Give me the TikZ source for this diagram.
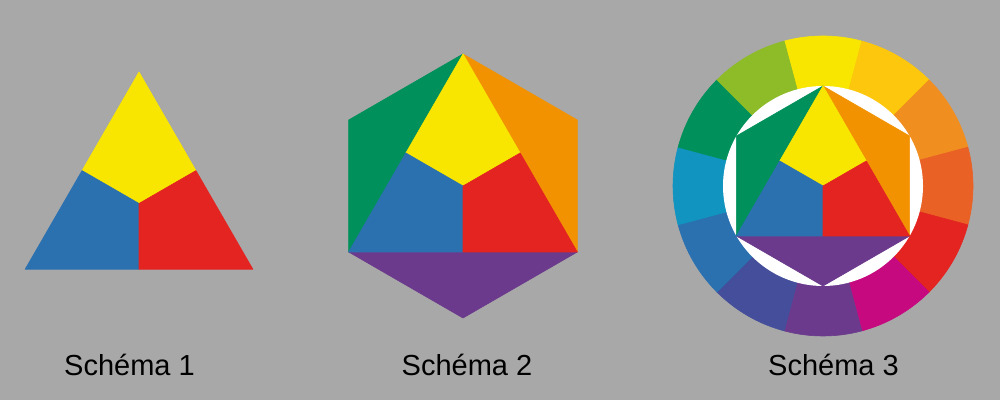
\documentclass[tikz,border=0pt]{standalone}
\usepackage{fontspec}
\setmainfont{Liberation Sans}
\usetikzlibrary{calc}
\definecolor{bggray}{HTML}{A8A8A8}
\definecolor{iYellow}{HTML}{F8E600}
\definecolor{iYellowOrange}{HTML}{FDC70D}
\definecolor{iOrange}{HTML}{F39200}
\definecolor{iOrangeRing}{HTML}{F18E20}
\definecolor{iRedOrange}{HTML}{E96125}
\definecolor{iRed}{HTML}{E42421}
\definecolor{iMagenta}{HTML}{C6097F}
\definecolor{iViolet}{HTML}{6C3A8D}
\definecolor{iBlueViolet}{HTML}{444E9B}
\definecolor{iBlue}{HTML}{2B71B0}
\definecolor{iCyan}{HTML}{1194BF}
\definecolor{iGreen}{HTML}{00905B}
\definecolor{iYellowGreen}{HTML}{8DBC28}
\begin{document}
\begin{tikzpicture}[x=0.5pt,y=0.5pt,line join=round,
	piece/.style={fill=#1,draw=#1,line width=0.3pt},
	titre/.style={anchor=base,font=\fontsize{14.5}{17}\selectfont}]
	\fill [bggray] (0,0) rectangle (1000,400);
	% schema 1
	\coordinate (c1) at (139,196.5);
	\coordinate (t1) at ($(c1)+(90:131.5)$);
	\coordinate (bl1) at ($(c1)+(210:131.5)$);
	\coordinate (br1) at ($(c1)+(330:131.5)$);
	\coordinate (ml1) at ($(c1)+(150:65.75)$);
	\coordinate (mr1) at ($(c1)+(30:65.75)$);
	\coordinate (mb1) at ($(c1)+(270:65.75)$);
	\filldraw [piece=iYellow] (t1)--(ml1)--(c1)--(mr1)--cycle;
	\filldraw [piece=iBlue] (ml1)--(bl1)--(mb1)--(c1)--cycle;
	\filldraw [piece=iRed] (mr1)--(c1)--(mb1)--(br1)--cycle;
	% schema 2
	\coordinate (c2) at (463,214);
	\coordinate (t2) at ($(c2)+(90:132)$);
	\coordinate (ul2) at ($(c2)+(150:132)$);
	\coordinate (bl2) at ($(c2)+(210:132)$);
	\coordinate (b2) at ($(c2)+(270:132)$);
	\coordinate (br2) at ($(c2)+(330:132)$);
	\coordinate (ur2) at ($(c2)+(30:132)$);
	\coordinate (ml2) at ($(c2)+(150:66)$);
	\coordinate (mr2) at ($(c2)+(30:66)$);
	\coordinate (mb2) at ($(c2)+(270:66)$);
	\filldraw [piece=iGreen] (t2)--(ul2)--(bl2)--cycle;
	\filldraw [piece=iOrange] (t2)--(ur2)--(br2)--cycle;
	\filldraw [piece=iViolet] (bl2)--(b2)--(br2)--cycle;
	\filldraw [piece=iYellow] (t2)--(ml2)--(c2)--(mr2)--cycle;
	\filldraw [piece=iBlue] (ml2)--(bl2)--(mb2)--(c2)--cycle;
	\filldraw [piece=iRed] (mr2)--(c2)--(mb2)--(br2)--cycle;
	% schema 3
	\coordinate (c3) at (823,214);
	\foreach \a/\c in {90/iYellow,60/iYellowOrange,30/iOrangeRing,0/iRedOrange,-30/iRed,-60/iMagenta,
		-90/iViolet,-120/iBlueViolet,-150/iBlue,180/iCyan,150/iGreen,120/iYellowGreen}
		\filldraw [piece=\c] ($(c3)+(\a-15:150)$) arc [start angle=\a-15,end angle=\a+15,radius=150]
			-- ($(c3)+(\a+15:98)$) arc [start angle=\a+15,end angle=\a-15,radius=98] -- cycle;
	\fill [white] (c3) circle [radius=100];
	\coordinate (t3) at ($(c3)+(90:100)$);
	\coordinate (ul3) at ($(c3)+(150:100)$);
	\coordinate (bl3) at ($(c3)+(210:100)$);
	\coordinate (b3) at ($(c3)+(270:100)$);
	\coordinate (br3) at ($(c3)+(330:100)$);
	\coordinate (ur3) at ($(c3)+(30:100)$);
	\coordinate (ml3) at ($(c3)+(150:50)$);
	\coordinate (mr3) at ($(c3)+(30:50)$);
	\coordinate (mb3) at ($(c3)+(270:50)$);
	\filldraw [piece=iGreen] (t3)--(ul3)--(bl3)--cycle;
	\filldraw [piece=iOrange] (t3)--(ur3)--(br3)--cycle;
	\filldraw [piece=iViolet] (bl3)--(b3)--(br3)--cycle;
	\filldraw [piece=iYellow] (t3)--(ml3)--(c3)--(mr3)--cycle;
	\filldraw [piece=iBlue] (ml3)--(bl3)--(mb3)--(c3)--cycle;
	\filldraw [piece=iRed] (mr3)--(c3)--(mb3)--(br3)--cycle;
	% titres
	\node [titre] (s1) at (129.5,24) {Schéma 1};
	\node [titre] (s2) at (467,24) {Schéma 2};
	\node [titre] (s3) at (833.5,24) {Schéma 3};
\end{tikzpicture}
\end{document}
